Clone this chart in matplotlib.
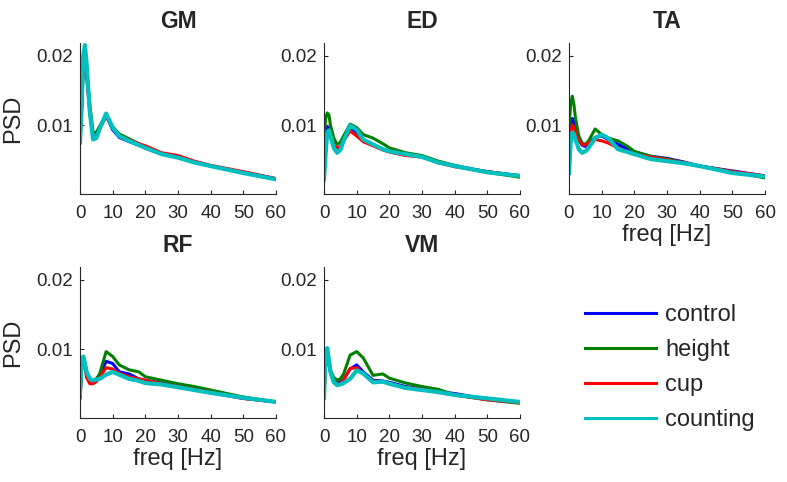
import numpy as np
import matplotlib
matplotlib.use("Agg")
import matplotlib.pyplot as plt

plt.rcParams['font.family'] = ['Liberation Sans', 'DejaVu Sans']

#datos
freq = [0, 0.5, 1, 1.5, 2, 3, 4, 5, 6, 8, 10, 12, 15, 18, 20, 25, 30, 35, 40, 50, 60]
conds = ["control", "height", "cup", "counting"]
musculos = ["GM", "ED", "TA", "RF", "VM"]

GM_control  = [0.0078, 0.013, 0.019, 0.020, 0.018, 0.012, 0.0083, 0.0085, 0.0096, 0.0114, 0.0094, 0.0083, 0.0077, 0.0072, 0.0068, 0.0060, 0.0056, 0.0048, 0.0042, 0.0033, 0.0024]
GM_height   = [0.0078, 0.013, 0.019, 0.020, 0.018, 0.013, 0.0090, 0.0090, 0.0099, 0.0115, 0.0098, 0.0088, 0.0081, 0.0074, 0.0069, 0.0060, 0.0055, 0.0048, 0.0042, 0.0033, 0.0023]
GM_cup      = [0.0075, 0.012, 0.018, 0.019, 0.017, 0.012, 0.0081, 0.0084, 0.0096, 0.0113, 0.0097, 0.0085, 0.0079, 0.0074, 0.0071, 0.0061, 0.0057, 0.0049, 0.0043, 0.0034, 0.0024]
GM_counting = [0.0076, 0.013, 0.020, 0.0215, 0.019, 0.012, 0.0080, 0.0082, 0.0095, 0.0117, 0.0097, 0.0085, 0.0078, 0.0072, 0.0068, 0.0059, 0.0054, 0.0047, 0.0042, 0.0032, 0.0023]

ED_control  = [0.0060, 0.0090, 0.0098, 0.0096, 0.0088, 0.0072, 0.0065, 0.0068, 0.0078, 0.0098, 0.0090, 0.0077, 0.0072, 0.0066, 0.0063, 0.0058, 0.0055, 0.0047, 0.0042, 0.0034, 0.0028]
ED_height   = [0.0080, 0.0110, 0.0118, 0.0115, 0.0100, 0.0082, 0.0073, 0.0076, 0.0085, 0.0102, 0.0097, 0.0087, 0.0082, 0.0074, 0.0068, 0.0061, 0.0057, 0.0049, 0.0043, 0.0033, 0.0026]
ED_cup      = [0.0035, 0.0070, 0.0088, 0.0090, 0.0083, 0.0072, 0.0068, 0.0070, 0.0078, 0.0092, 0.0085, 0.0077, 0.0071, 0.0065, 0.0062, 0.0057, 0.0055, 0.0047, 0.0041, 0.0034, 0.0028]
ED_counting = [0.0023, 0.0060, 0.0090, 0.0093, 0.0085, 0.0068, 0.0061, 0.0065, 0.0078, 0.0100, 0.0094, 0.0080, 0.0073, 0.0066, 0.0063, 0.0059, 0.0055, 0.0047, 0.0042, 0.0033, 0.0028]

TA_control  = [0.0050, 0.0095, 0.0110, 0.0105, 0.0095, 0.0080, 0.0072, 0.0070, 0.0074, 0.0083, 0.0085, 0.0080, 0.0073, 0.0066, 0.0062, 0.0056, 0.0053, 0.0048, 0.0042, 0.0035, 0.0028]
TA_height   = [0.0095, 0.0130, 0.0142, 0.0130, 0.0110, 0.0085, 0.0075, 0.0073, 0.0078, 0.0095, 0.0087, 0.0082, 0.0078, 0.0070, 0.0063, 0.0056, 0.0052, 0.0047, 0.0042, 0.0034, 0.0025]
TA_cup      = [0.0037, 0.0085, 0.0101, 0.0098, 0.0090, 0.0078, 0.0073, 0.0072, 0.0075, 0.0080, 0.0078, 0.0075, 0.0068, 0.0062, 0.0059, 0.0055, 0.0051, 0.0047, 0.0042, 0.0034, 0.0028]
TA_counting = [0.0032, 0.0075, 0.0090, 0.0088, 0.0080, 0.0066, 0.0061, 0.0063, 0.0068, 0.0082, 0.0087, 0.0082, 0.0066, 0.0062, 0.0059, 0.0052, 0.0049, 0.0046, 0.0042, 0.0032, 0.0027]

RF_control  = [0.0033, 0.0075, 0.0090, 0.0080, 0.0068, 0.0057, 0.0055, 0.0057, 0.0063, 0.0083, 0.0080, 0.0068, 0.0065, 0.0058, 0.0056, 0.0052, 0.0047, 0.0043, 0.0038, 0.0030, 0.0025]
RF_height   = [0.0032, 0.0075, 0.0090, 0.0080, 0.0068, 0.0058, 0.0056, 0.0058, 0.0065, 0.0097, 0.0090, 0.0078, 0.0071, 0.0068, 0.0061, 0.0056, 0.0051, 0.0047, 0.0042, 0.0032, 0.0025]
RF_cup      = [0.0030, 0.0072, 0.0088, 0.0075, 0.0060, 0.0051, 0.0051, 0.0054, 0.0060, 0.0074, 0.0072, 0.0066, 0.0061, 0.0058, 0.0056, 0.0051, 0.0047, 0.0043, 0.0039, 0.0030, 0.0025]
RF_counting = [0.0037, 0.0080, 0.0090, 0.0080, 0.0068, 0.0058, 0.0056, 0.0057, 0.0058, 0.0064, 0.0068, 0.0064, 0.0058, 0.0055, 0.0052, 0.0050, 0.0046, 0.0042, 0.0038, 0.0031, 0.0025]

VM_control  = [0.0035, 0.0088, 0.0095, 0.0082, 0.0068, 0.0055, 0.0052, 0.0053, 0.0057, 0.0072, 0.0078, 0.0068, 0.0056, 0.0055, 0.0053, 0.0047, 0.0044, 0.0040, 0.0037, 0.0029, 0.0024]
VM_height   = [0.0040, 0.0090, 0.0095, 0.0082, 0.0070, 0.0060, 0.0056, 0.0058, 0.0065, 0.0092, 0.0097, 0.0088, 0.0063, 0.0065, 0.0059, 0.0052, 0.0047, 0.0043, 0.0035, 0.0028, 0.0023]
VM_cup      = [0.0030, 0.0082, 0.0090, 0.0078, 0.0066, 0.0053, 0.0050, 0.0051, 0.0056, 0.0073, 0.0074, 0.0065, 0.0055, 0.0054, 0.0051, 0.0046, 0.0043, 0.0039, 0.0035, 0.0028, 0.0024]
VM_counting = [0.0032, 0.0095, 0.0102, 0.0085, 0.0068, 0.0053, 0.0049, 0.0050, 0.0052, 0.0058, 0.0070, 0.0066, 0.0053, 0.0054, 0.0051, 0.0045, 0.0042, 0.0039, 0.0035, 0.0030, 0.0025]

datos = {
    "GM": [GM_control, GM_height, GM_cup, GM_counting],
    "ED": [ED_control, ED_height, ED_cup, ED_counting],
    "TA": [TA_control, TA_height, TA_cup, TA_counting],
    "RF": [RF_control, RF_height, RF_cup, RF_counting],
    "VM": [VM_control, VM_height, VM_cup, VM_counting],
}

colores = [(0, 0, 1), (0, 0.5, 0), (1, 0, 0), (0, 0.75, 0.75)]
anchos = [2.2, 2.2, 2.2, 3.0]
gris = "#262626"

#posiciones de los ejes (pixeles de la imagen)
W, H = 787, 482
cajas = {
    "GM": (80, 43), "ED": (324, 43), "TA": (569, 43),
    "RF": (80, 267), "VM": (324, 267),
}
ancho_ax, alto_ax = 196, 151

fig = plt.figure(figsize=(W/100, H/100), dpi=100)

for m in musculos:
    x0, y0 = cajas[m]
    ax = fig.add_axes([x0/W, 1-(y0+alto_ax)/H, ancho_ax/W, alto_ax/H])
    for k in range(4):
        ax.plot(freq, datos[m][k], color=colores[k], lw=anchos[k], label=conds[k],
                solid_joinstyle="round")
    ax.set_xlim(0, 60)
    ax.set_ylim(0.0002, 0.0218)
    ax.set_xticks([0, 10, 20, 30, 40, 50, 60])
    ax.set_yticks([0.01, 0.02])
    ax.set_yticklabels(["0.01", "0.02"])
    ax.spines["top"].set_visible(False)
    ax.spines["right"].set_visible(False)
    ax.spines["left"].set_color(gris)
    ax.spines["bottom"].set_color(gris)
    ax.tick_params(direction="in", length=3, width=0.8, colors=gris, labelsize=13.5, pad=5)
    ax.tick_params(axis="x", pad=8)
    ax.set_title(m, fontsize=16.5, fontweight="bold", color=gris, pad=11)
    if m in ["GM", "RF"]:
        ax.set_ylabel("PSD", fontsize=17, color=gris, labelpad=9)
    if m in ["TA", "RF", "VM"]:
        ax.set_xlabel("freq [Hz]", fontsize=17, color=gris, labelpad=1)
    if m == "GM":
        handles, labels = ax.get_legend_handles_labels()

#leyenda
leg = fig.legend(handles, labels, loc="upper left", bbox_to_anchor=(585/W, 1-304/H),
                 frameon=False, fontsize=17, handlelength=3.0, handletextpad=0.4,
                 labelspacing=0.55, borderpad=0, borderaxespad=0)
for t in leg.get_texts():
    t.set_color(gris)
for l in leg.get_lines():
    l.set_linewidth(2.2)

plt.savefig("out.png", dpi=100)
